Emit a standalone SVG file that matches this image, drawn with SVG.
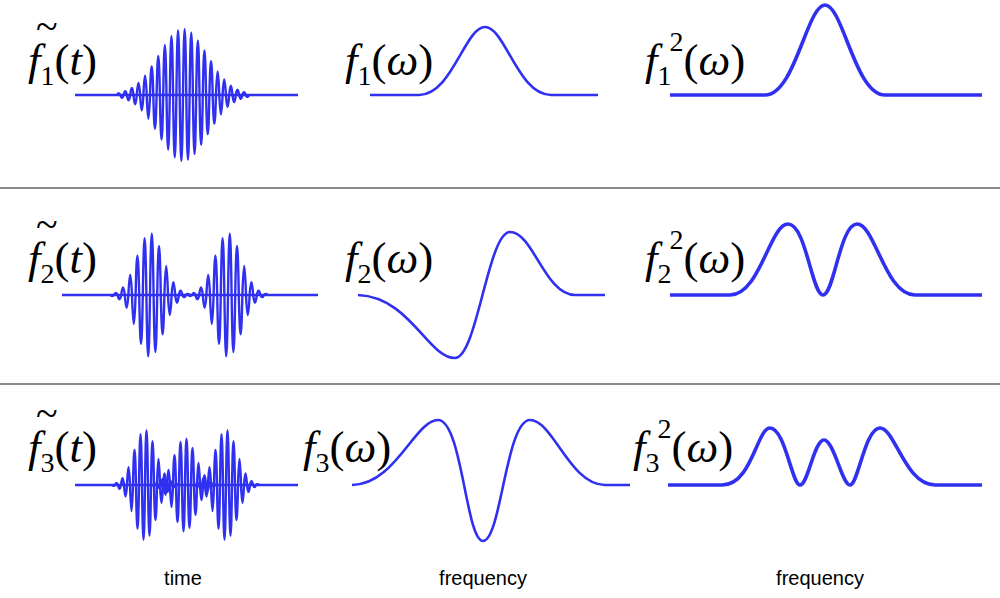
<svg xmlns="http://www.w3.org/2000/svg" width="1000" height="598" viewBox="0 0 1000 598">
<style>
.w{fill:none;stroke:#3030f0;stroke-width:2.4;stroke-linejoin:round}
.m{fill:none;stroke:#3030f0;stroke-width:2.6}
.r{fill:none;stroke:#3030f0;stroke-width:3.6}
.sep{stroke:#8a8a8a;stroke-width:2}
.lb{font-family:"Liberation Serif",serif;font-style:italic;font-size:45px;fill:#000}
.tl{font-family:"Liberation Serif",serif;font-size:40px;fill:#000}
.up{font-style:normal}
.sub{font-family:"Liberation Serif",serif;font-style:normal;font-size:28px}
.ax{font-family:"Liberation Sans",sans-serif;font-size:20px;fill:#000}
</style>
<defs>
<path id="p1" vector-effect="non-scaling-stroke" d="M-60,0 Q-58.5,-3.5 -57,0 Q-55.5,5 -54,0 Q-52.5,-7 -51,0 Q-49.5,9.5 -48,0 Q-46.5,-12.9 -45,0 Q-43.5,17 -42,0 Q-40.5,-22 -39,0 Q-37.5,28.1 -36,0 Q-34.5,-35.1 -33,0 Q-31.5,43 -30,0 Q-28.5,-51.8 -27,0 Q-25.5,61.3 -24,0 Q-22.5,-71.1 -21,0 Q-19.5,81 -18,0 Q-16.5,-90.6 -15,0 Q-13.5,99.4 -12,0 Q-10.5,-107.1 -9,0 Q-7.5,113.2 -6,0 Q-4.5,-117.5 -3,0 Q-1.5,119.7 0,0 Q1.5,-119.7 3,0 Q4.5,117.5 6,0 Q7.5,-113.2 9,0 Q10.5,107.1 12,0 Q13.5,-99.4 15,0 Q16.5,90.6 18,0 Q19.5,-81 21,0 Q22.5,71.1 24,0 Q25.5,-61.3 27,0 Q28.5,51.8 30,0 Q31.5,-43 33,0 Q34.5,35.1 36,0 Q37.5,-28.1 39,0 Q40.5,22 42,0 Q43.5,-17 45,0 Q46.5,12.9 48,0 Q49.5,-9.5 51,0 Q52.5,7 54,0 Q55.5,-5 57,0 Q58.5,3.5 60,0"/>
<path id="p2" vector-effect="non-scaling-stroke" d="M-33,0 Q-31.5,2 -30,0 Q-28.5,-4.2 -27,0 Q-25.5,8.2 -24,0 Q-22.5,-14.8 -21,0 Q-19.5,24.9 -18,0 Q-16.5,-38.9 -15,0 Q-13.5,56.5 -12,0 Q-10.5,-76.1 -9,0 Q-7.5,95.1 -6,0 Q-4.5,-110.4 -3,0 Q-1.5,118.9 0,0 Q1.5,-118.9 3,0 Q4.5,110.4 6,0 Q7.5,-95.1 9,0 Q10.5,76.1 12,0 Q13.5,-56.5 15,0 Q16.5,38.9 18,0 Q19.5,-24.9 21,0 Q22.5,14.8 24,0 Q25.5,-8.2 27,0 Q28.5,4.2 30,0 Q31.5,-2 33,0"/>
</defs>
<rect width="1000" height="598" fill="#fff"/>
<line class="sep" x1="0" y1="188" x2="1000" y2="188"/>
<line class="sep" x1="0" y1="384" x2="1000" y2="384"/>

<g id="row1">
<g id="t1" class="w"><line x1="75" y1="95" x2="298" y2="95"/><use href="#p1" transform="translate(183,95) scale(1.1,1.1)"/></g>
<g id="w1"><path class="m" d="M370,95 L419,95 C452,95 465,27 485,27 C505,27 518,95 551,95 L598,95"/></g>
<g id="s1"><path class="r" d="M670,95 L765,95 C795,95 807,5 825,5 C843,5 855,95 885,95 L982,95"/></g>
</g>

<g id="row2">
<g id="t2" class="w"><line x1="62" y1="295" x2="318" y2="295"/><use href="#p2" transform="translate(150,295) scale(1.2,1.03)"/><use href="#p2" transform="translate(228,295) scale(1.2,1.03)"/></g>
<g id="w2"><path class="m" d="M358,295 C410,297 428,358 455,358 C477,358 488,232 510,232 C533,232 545,295 575,295 L605,295"/></g>
<g id="s2"><path class="r" d="M670,295 L730,295 C760,295 770,224 788,224 C806,224 812,295 823,295 C834,295 840,224 857,224 C875,224 885,295 915,295 L982,295"/></g>
</g>

<g id="row3">
<g id="t3" class="w"><line x1="75" y1="485" x2="298" y2="485"/><use href="#p2" transform="translate(145,485) scale(1,0.92)"/><use href="#p2" transform="translate(185,485) scale(1,0.78)"/><use href="#p2" transform="translate(226,485) scale(1,0.92)"/></g>
<g id="w3"><path class="m" d="M352,485 C395,485 415,420 438,420 C462,420 466,541 483,541 C501,541 506,420 530,420 C553,420 570,485 605,485 L630,485"/></g>
<g id="s3"><path class="r" d="M668,485 L722,485 C752,485 757,428 770,428 C785,428 792,485 800,485 C808,485 814,440 824,440 C834,440 842,485 850,485 C858,485 865,428 880,428 C895,428 905,485 935,485 L982,485"/></g>
</g>

<g id="labels">
<text class="lb" x="28" y="75">f<tspan class="sub" dy="10">1</tspan><tspan class="up" dy="-10">(</tspan>t<tspan class="up">)</tspan></text>
<text class="tl" x="36" y="40">~</text>
<text class="lb" x="345" y="75">f<tspan class="sub" dy="10">1</tspan><tspan class="up" dy="-10">(</tspan>ω<tspan class="up">)</tspan></text>
<text class="lb" x="645" y="75">f<tspan class="sub" dy="10">1</tspan><tspan class="sub" dx="-2" dy="-34">2</tspan><tspan class="up" dy="24">(</tspan>ω<tspan class="up">)</tspan></text>

<text class="lb" x="28" y="273">f<tspan class="sub" dy="10">2</tspan><tspan class="up" dy="-10">(</tspan>t<tspan class="up">)</tspan></text>
<text class="tl" x="36" y="238">~</text>
<text class="lb" x="345" y="273">f<tspan class="sub" dy="10">2</tspan><tspan class="up" dy="-10">(</tspan>ω<tspan class="up">)</tspan></text>
<text class="lb" x="645" y="273">f<tspan class="sub" dy="10">2</tspan><tspan class="sub" dx="-2" dy="-34">2</tspan><tspan class="up" dy="24">(</tspan>ω<tspan class="up">)</tspan></text>

<text class="lb" x="28" y="462">f<tspan class="sub" dy="10">3</tspan><tspan class="up" dy="-10">(</tspan>t<tspan class="up">)</tspan></text>
<text class="tl" x="36" y="427">~</text>
<text class="lb" x="303" y="462">f<tspan class="sub" dy="10">3</tspan><tspan class="up" dy="-10">(</tspan>ω<tspan class="up">)</tspan></text>
<text class="lb" x="633" y="462">f<tspan class="sub" dy="10">3</tspan><tspan class="sub" dx="-2" dy="-34">2</tspan><tspan class="up" dy="24">(</tspan>ω<tspan class="up">)</tspan></text>

<text class="ax" x="183" y="585" text-anchor="middle">time</text>
<text class="ax" x="483" y="585" text-anchor="middle">frequency</text>
<text class="ax" x="820" y="585" text-anchor="middle">frequency</text>
</g>
</svg>
